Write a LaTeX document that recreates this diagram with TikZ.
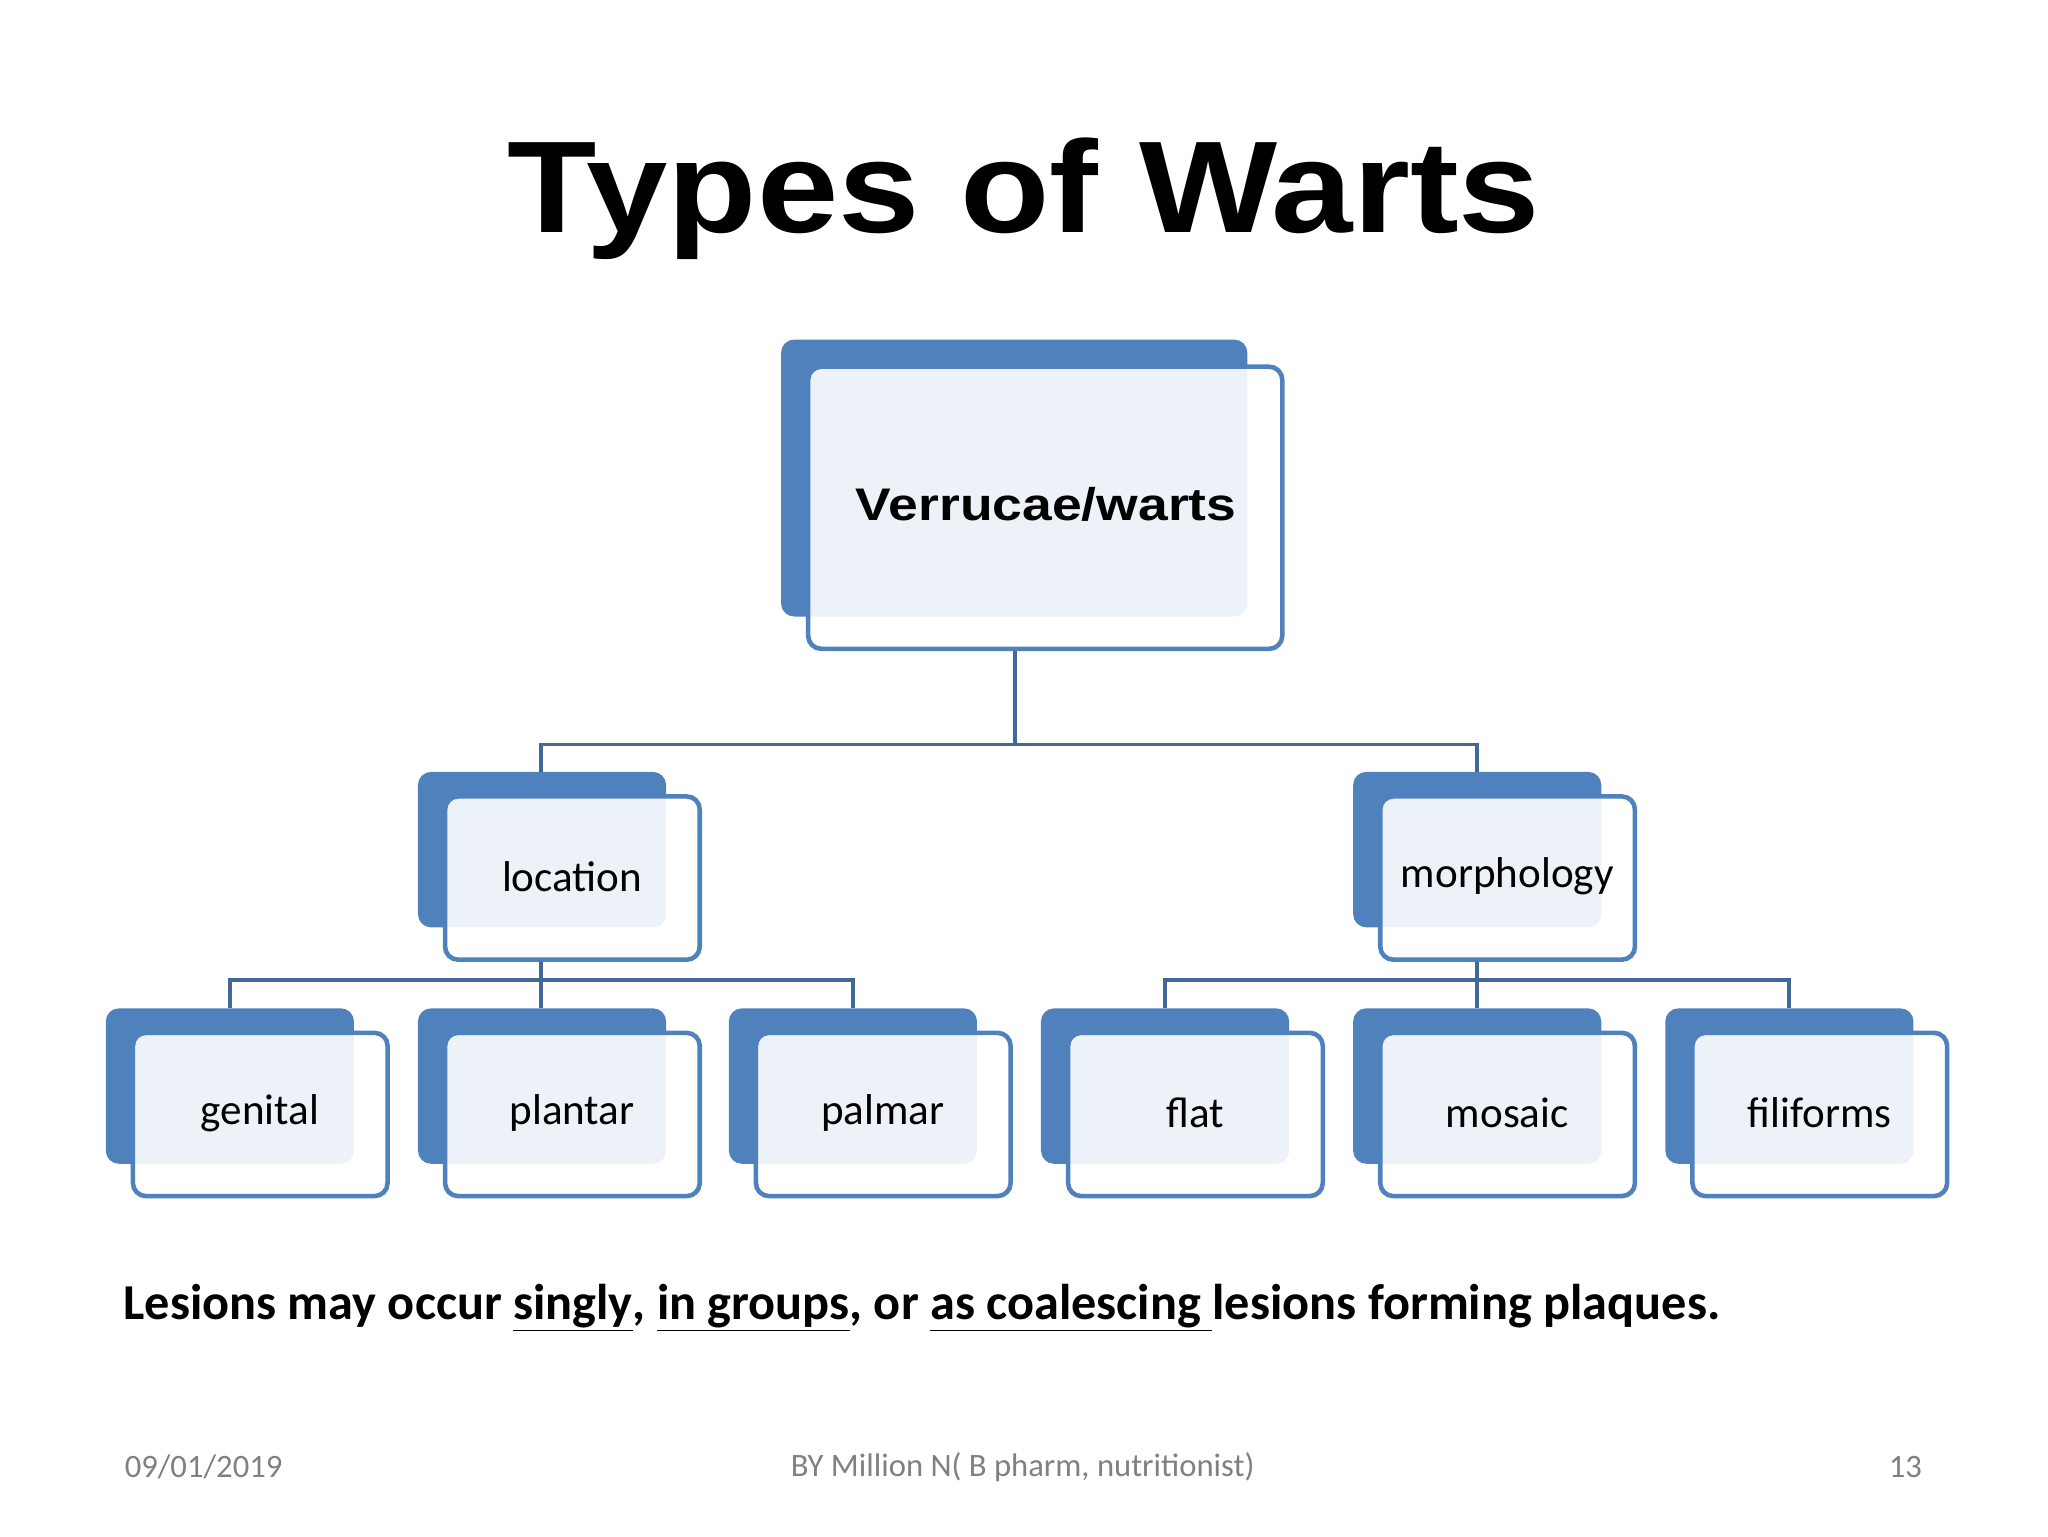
\documentclass[tikz,border=0pt]{standalone}
\usepackage{fontspec}
\setmainfont{Carlito}
\newfontfamily\titlefont{Liberation Sans}
\definecolor{wblue}{HTML}{4F81BD}
\definecolor{lblue}{HTML}{EEF2F8}
\definecolor{cline}{HTML}{41689B}
\begin{document}
\begin{tikzpicture}[x=1pt,y=-1pt,
 backbox/.style={fill=wblue,rounded corners=10pt},
 frontbox/.style={draw=wblue,line width=3.5pt,fill=white,fill opacity=0.9,text opacity=1,rounded corners=10pt},
 conn/.style={draw=cline,line width=3pt}]
\useasboundingbox (0,0) rectangle (1568,1176);
\node[font=\titlefont\bfseries\fontsize{100}{110}\selectfont,xscale=1.12] (title) at (784,152) {Types of Warts};
% root
\fill[backbox] (598,260) rectangle (955,472);
\node[frontbox,minimum width=363pt,minimum height=216pt,anchor=north west] (root) at (617,279) {};
\node[font=\titlefont\bfseries\fontsize{35}{40}\selectfont,xscale=1.17] (rt) at (801,386) {Verrucae/warts};
\def\bx#1#2#3#4#5{%
 \fill[backbox] (#2,#3) rectangle (#2+190,#3+119);
 \node[frontbox,minimum width=195pt,minimum height=125pt,anchor=north west] (#1) at (#2+19,#3+17) {};
 \node[font=\fontsize{33}{38}\selectfont] at (#2+118,#3+#5) {#4};}
\bx{loc}{320}{591}{location}{80}
\bx{mor}{1036}{591}{morphology}{80}
\bx{gen}{81}{772}{genital}{80}
\bx{pla}{320}{772}{plantar}{80}
\bx{pal}{558}{772}{palmar}{80}
\bx{fla}{797}{772}{flat}{80}
\bx{mos}{1036}{772}{mosaic}{80}
\bx{fil}{1275}{772}{filiforms}{80}
\coordinate (r1) at (777,570);
\draw[conn] (root.south -| r1) -- (r1);
\draw[conn] (414,591) -- (414,570) -- (1131,570) -- (1131,591);
\draw[conn] (loc.south -| 414,0) -- (414,750);
\draw[conn] (176,772) -- (176,750) -- (653,750) -- (653,772);
\draw[conn] (414,750) -- (414,772);
\draw[conn] (mor.south -| 1131,0) -- (1131,772);
\draw[conn] (892,772) -- (892,750) -- (1370,750) -- (1370,772);
\node[anchor=west,font=\bfseries\fontsize{38.5}{44}\selectfont] (txt) at (91,1001) {Lesions may occur \underline{singly}, \underline{in groups}, or \underline{as coalescing }lesions forming plaques.};
\node[anchor=west,text=gray,font=\fontsize{25}{30}\selectfont] (d) at (92,1123) {09/01/2019};
\node[text=gray,font=\fontsize{25}{30}\selectfont] (a) at (783,1123) {BY Million N( B pharm, nutritionist)};
\node[anchor=east,text=gray,font=\fontsize{25}{30}\selectfont] (p) at (1475,1123) {13};
\end{tikzpicture}
\end{document}
